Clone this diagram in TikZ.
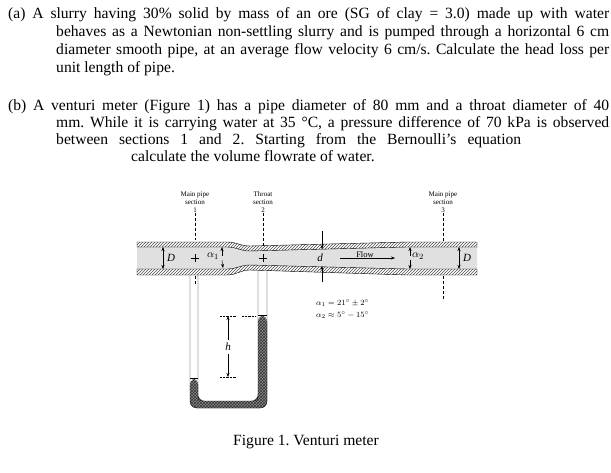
\documentclass[tikz,border=0pt]{standalone}
\usepackage{fontspec}
\setmainfont{Liberation Serif}
\usetikzlibrary{patterns,arrows.meta}
\frenchspacing
\begin{document}
\begin{tikzpicture}[x=1pt,y=-1pt,
  txt/.style={anchor=base west,inner sep=0pt,font=\fontsize{15.6}{18}\selectfont},
  lab/.style={inner sep=0pt,font=\fontsize{7}{8}\selectfont,align=center},
  sym/.style={inner sep=0pt,font=\fontsize{11}{12}\selectfont\itshape},
  dim/.style={-{Stealth[length=4pt,width=3pt]},thin},
  wall/.style={pattern=north east lines,pattern color=black!70,draw=black,thin},
  secline/.style={densely dashed,thin}]
\useasboundingbox (0,0) rectangle (611,472);
% text
\node[txt] (a1) at (8,18) {\makebox[601pt][s]{(a) A slurry having 30\% solid by mass of an ore (SG of clay = 3.0) made up with water}};
\node[txt] (a2) at (56,36) {\makebox[553pt][s]{behaves as a Newtonian non-settling slurry and is pumped through a horizontal 6 cm}};
\node[txt] (a3) at (56,54) {\makebox[553pt][s]{diameter smooth pipe, at an average flow velocity 6 cm/s. Calculate the head loss per}};
\node[txt] (a4) at (56,72) {unit length of pipe.};
\node[txt] (b1) at (8,110) {\makebox[601pt][s]{(b) A venturi meter (Figure 1) has a pipe diameter of 80 mm and a throat diameter of 40}};
\node[txt] (b2) at (56,127) {\makebox[553pt][s]{mm. While it is carrying water at 35 \textdegree C, a pressure difference of 70 kPa is observed}};
\node[txt] (b3) at (56,144) {\makebox[465pt][s]{between sections 1 and 2. Starting from the Bernoulli's equation}};
\node[txt] (b4) at (131,161) {calculate the volume flowrate of water.};
\node[txt] (cap) at (233,445) {Figure 1. Venturi meter};
% fluid
\fill[black!12] (137,247) -- (227,247) .. controls (237,247) and (240,251) .. (250,251) -- (407,247) -- (477,247)
  -- (477,269) -- (407,269) -- (250,265) .. controls (240,265) and (237,269) .. (227,269) -- (137,269) -- cycle;
% walls
\path[wall] (137,242) -- (227,242) .. controls (237,242) and (240,246) .. (250,246) -- (407,242) -- (477,242)
  -- (477,247) -- (407,247) -- (250,251) .. controls (240,251) and (237,247) .. (227,247) -- (137,247) -- cycle;
\path[wall] (137,269) -- (227,269) .. controls (237,269) and (240,265) .. (250,265) -- (407,269) -- (477,269)
  -- (477,275) -- (407,275) -- (250,270) .. controls (240,270) and (237,275) .. (227,275) -- (137,275) -- cycle;
% manometer
\fill[black!45,rounded corners=7pt] (190,378) -- (190,408) -- (267,408) -- (267,315) -- (258,315) -- (258,401) -- (198,401) -- (198,378) -- cycle;
\fill[pattern=crosshatch,pattern color=black!80,rounded corners=7pt] (190,378) -- (190,408) -- (267,408) -- (267,315) -- (258,315) -- (258,401) -- (198,401) -- (198,378) -- cycle;
\draw[thin,rounded corners=7pt] (190,275) -- (190,408) -- (267,408) -- (267,270);
\draw[thin,rounded corners=4pt] (198,275) -- (198,401) -- (258,401) -- (258,270);
\draw[thin] (190,378) -- (198,378) (258,315) -- (267,315);
% section labels
\node[lab] (s1) at (195,202) {Main pipe\\section\\1};
\node[lab] (s2) at (263,202) {Throat\\section\\2};
\node[lab] (s3) at (443,202) {Main pipe\\section\\3};
\draw[secline] (s1.south) -- (195,240) (195,276) -- (195,285);
\draw[secline] (s2.south) -- (263,246) (263,254) -- (263,262);
\draw[secline] (s3.south) -- (443,242) (443,276) -- (443,300);
\draw[thin] (191,258) -- (199,258) (195,254) -- (195,262);
\draw[thin] (259,258) -- (267,258) (263,254) -- (263,262);
% dimensions
\coordinate (dl1) at (163,247); \coordinate (dl2) at (163,269);
\draw[dim] (163,258) -- (dl1); \draw[dim] (163,258) -- (dl2);
\node[sym] (Dl) at (171,258) {D};
\coordinate (dr1) at (459,247); \coordinate (dr2) at (459,269);
\draw[dim] (459,258) -- (dr1); \draw[dim] (459,258) -- (dr2);
\node[sym] (Dr) at (467,258) {D};
\coordinate (a1t) at (222,247); \coordinate (a1b) at (223,268);
\draw[dim] (222,256) -- (a1t); \draw[dim] (222,260) -- (a1b);
\node[sym] (al1) at (213,256) {$\alpha_1$};
\coordinate (a2t) at (410,247); \coordinate (a2b) at (410,269);
\draw[dim] (410,256) -- (a2t); \draw[dim] (410,260) -- (a2b);
\node[sym] (al2) at (418,256) {$\alpha_2$};
\coordinate (dt) at (322,249); \coordinate (db) at (322,266);
\draw[dim] (322,231) -- (dt); \draw[dim] (322,282) -- (db);
\node[sym] (dd) at (320,258) {d};
\node[lab,font=\fontsize{8.5}{9}\selectfont] (flow) at (365,255) {Flow};
\coordinate (fe) at (395,258);
\draw[dim] (340,258) -- (fe);
\node[lab,font=\fontsize{8}{9}\selectfont,anchor=west] (f1) at (316,303) {$\alpha_1 = 21^\circ \pm 2^\circ$};
\node[lab,font=\fontsize{8}{9}\selectfont,anchor=west] (f2) at (316,315) {$\alpha_2 \approx 5^\circ - 15^\circ$};
% h
\coordinate (ht) at (228,316); \coordinate (hb) at (228,377);
\draw[dim] (228,340) -- (ht); \draw[dim] (228,354) -- (hb);
\node[sym] (h) at (228,347) {h};
\draw[densely dotted,thin] (220,316) -- (236,316) (220,377) -- (236,377) (242,316)--(256,316);
\end{tikzpicture}
\end{document}
